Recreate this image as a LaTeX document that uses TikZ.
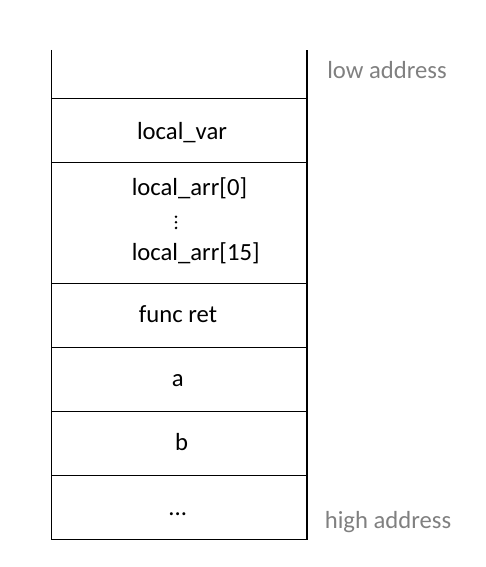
\documentclass[tikz,border=0pt]{standalone}
\usepackage{fontspec}
\setmainfont{Carlito}
\begin{document}
\begin{tikzpicture}[x=0.75pt,y=-0.75pt,
  cellline/.style={line width=1pt,black},
  cell/.style={font=\fontsize{18.5}{20}\selectfont,anchor=base,inner sep=0pt,text=black},
  dotmark/.style={fill=black,draw=none},
  addr/.style={font=\fontsize{18.5}{20}\selectfont,anchor=base,inner sep=0pt,text={rgb,255:red,128;green,128;blue,128}}]
\useasboundingbox (0,0) rectangle (485,567);
% stack outline
\draw[cellline] (51.5,50) -- (51.5,539.3) -- (307,539.3) -- (307,50);
\foreach \yy in {98.3,162.3,283.3,347.3,411.3,475.3}
  \draw[cellline] (51.5,\yy) -- (307,\yy);
% texts
\node[cell] (lv) at (182,139.3) {local\_var};
\node[cell,anchor=base west] (la0) at (131.5,195) {local\_arr[0]};
\foreach \yy in {216.7,222.2,227.9}
  \fill[dotmark] (176,\yy) circle[radius=1.4];
\node[cell,anchor=base west] (la15) at (131.5,260) {local\_arr[15]};
\node[cell] (fr) at (178,322.7) {func ret};
\node[cell] (na) at (177.7,386.7) {a};
\node[cell] (nb) at (181.7,450.7) {b};
\node[cell] (nd) at (177.7,515) {...};
\node[addr] (low) at (387,78.5) {low address};
\node[addr] (high) at (388,528.8) {high address};
\end{tikzpicture}
\end{document}
